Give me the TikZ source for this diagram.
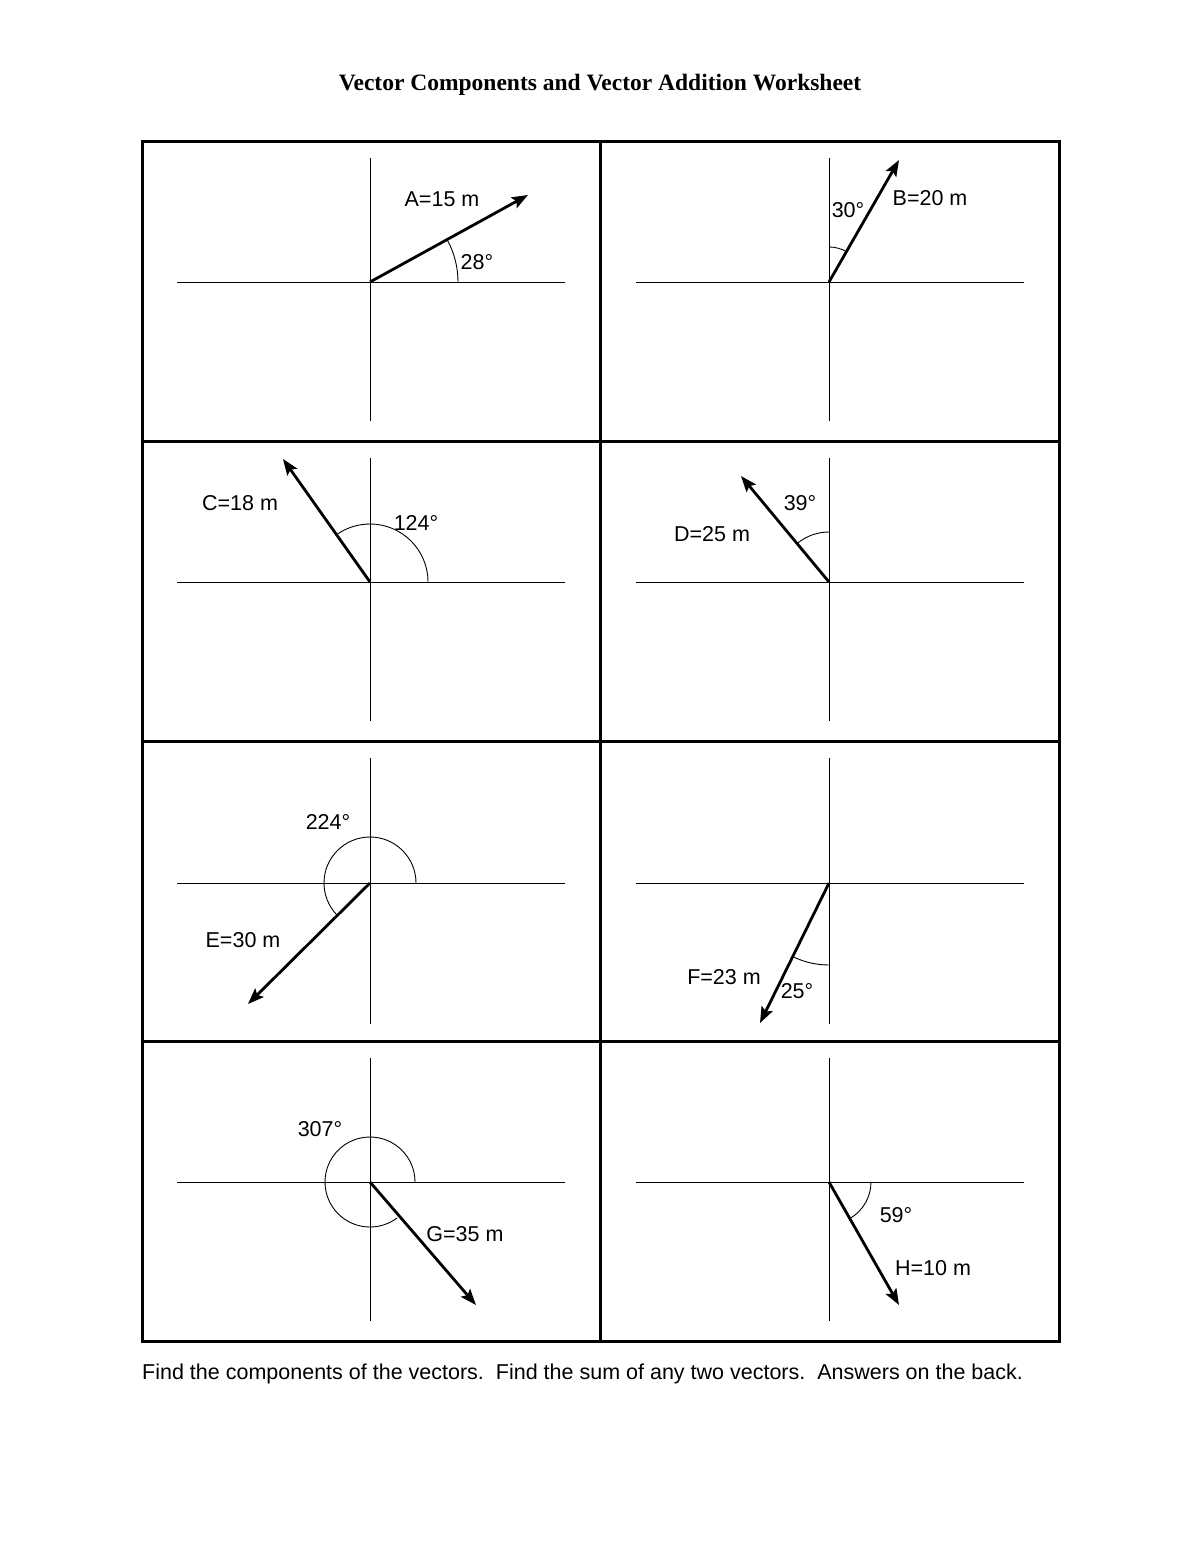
\documentclass[tikz,border=0pt]{standalone}
\usepackage{fontspec}
\setmainfont{Liberation Sans}
\newfontfamily\titlefont{Liberation Serif}
\usetikzlibrary{arrows.meta}
\begin{document}
\begin{tikzpicture}[x=1pt,y=-1pt,
 lbl/.style={font=\fontsize{21.5}{23}\selectfont,inner sep=0pt},
 vec/.style={line width=2.8pt,-{Stealth[length=16pt,width=12pt,inset=3pt]}},
 axis/.style={line width=1pt},
 frame/.style={line width=3pt},
 ang/.style={line width=0.9pt}]
\useasboundingbox (0,0) rectangle (1200,1553);
\node[font=\titlefont\bfseries\fontsize{23.5}{26}\selectfont] (title) at (600,85) {Vector Components and Vector Addition Worksheet};
\draw[frame] (142,141) rectangle (1059,1341);
\draw[frame] (600,141) -- (600,1341);
\foreach \y in {441,741,1041} \draw[frame] (142,\y) -- (1059,\y);
% axes
\foreach \cy/\t/\b in {282/158/421,582/458/721,883/758/1024,1182/1058/1321}{
 \draw[axis] (177,\cy) -- (565,\cy); \draw[axis] (370,\t) -- (370,\b);
 \draw[axis] (636,\cy) -- (1024,\cy); \draw[axis] (829,\t) -- (829,\b);}
\coordinate (oA) at (370,282); \coordinate (oB) at (829,282);
\coordinate (oC) at (370,582); \coordinate (oD) at (829,582);
\coordinate (oE) at (370,883); \coordinate (oF) at (829,883);
\coordinate (oG) at (370,1182); \coordinate (oH) at (829,1182);
\coordinate (tA) at (528,195); \coordinate (tB) at (899,160);
\coordinate (tC) at (283,459); \coordinate (tD) at (741,476);
\coordinate (tE) at (248,1004); \coordinate (tF) at (760,1023);
\coordinate (tG) at (476,1305); \coordinate (tH) at (899,1305);
\foreach \v in {A,B,C,D,E,F,G,H} \draw[vec] (o\v) -- (t\v);
% arcs (angles negated due to flipped y)
\draw[ang] (oA) ++(0:88) arc[start angle=0,end angle=-28,radius=88];
\draw[ang] (oB) ++(-90:35) arc[start angle=-90,end angle=-60,radius=35];
\draw[ang] (oC) ++(0:58) arc[start angle=0,end angle=-124,radius=58];
\draw[ang] (oD) ++(-90:50) arc[start angle=-90,end angle=-129,radius=50];
\draw[ang] (oE) ++(0:46) arc[start angle=0,end angle=-224,radius=46];
\draw[ang] (oF) ++(90:82) arc[start angle=90,end angle=116,radius=82];
\draw[ang] (oG) ++(0:45) arc[start angle=0,end angle=-307,radius=45];
\draw[ang] (oH) ++(0:42) arc[start angle=0,end angle=60,radius=42];
% labels
\node[lbl] (lA) at (442,199) {A=15 m};
\node[lbl] (aA) at (477,262) {28°};
\node[lbl] (lB) at (930,198) {B=20 m};
\node[lbl] (aB) at (848,210) {30°};
\node[lbl] (lC) at (240,503) {C=18 m};
\node[lbl] (aC) at (416,523) {124°};
\node[lbl] (lD) at (712,534) {D=25 m};
\node[lbl] (aD) at (800,503) {39°};
\node[lbl] (lE) at (243,940) {E=30 m};
\node[lbl] (aE) at (328,822) {224°};
\node[lbl] (lF) at (724,977) {F=23 m};
\node[lbl] (aF) at (797,991) {25°};
\node[lbl] (lG) at (465,1234) {G=35 m};
\node[lbl] (aG) at (320,1129) {307°};
\node[lbl] (lH) at (933,1268) {H=10 m};
\node[lbl] (aH) at (896,1215) {59°};
\node[font=\fontsize{21.5}{23}\selectfont,anchor=west,inner sep=0pt] (foot) at (142,1374) {Find the components of the vectors.\ \ Find the sum of any two vectors.\ \ Answers on the back.};
\end{tikzpicture}
\end{document}
